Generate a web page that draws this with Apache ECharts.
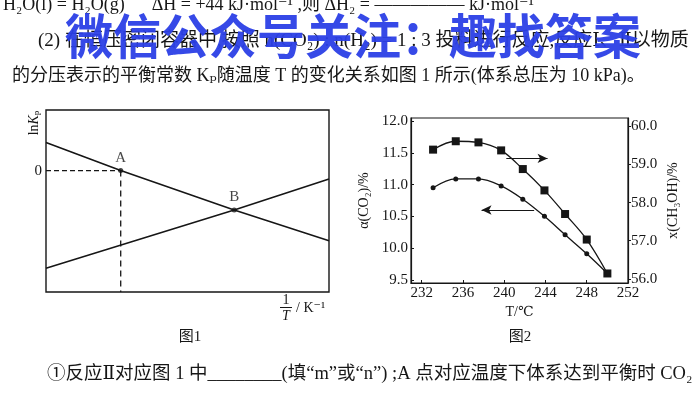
<!DOCTYPE html>
<html>
<head>
<meta charset="utf-8">
<script src="https://cdn.jsdelivr.net/npm/echarts@6/dist/echarts.min.js"></script>
<style>
html,body{margin:0;padding:0;background:#fff;}
#c{width:700px;height:399px;}
</style>
</head>
<body>
<div id="c"></div>
<script>
// ---------- Figure 1 (schematic lnKp vs 1/T) ----------
const fig1LineN = [[0, 1.54], [2.64, 0], [6.65, -2.16], [10, -3.85]];
const fig1LineM = [[0, -5.36], [6.65, -2.16], [10, -0.46]];
const fig1PointA = [2.64, 0];
const fig1PointB = [6.65, -2.16];
const fig1YLabels = [0];

// ---------- Figure 2 ----------
const temps = [233.1, 235.3, 237.5, 239.7, 241.8, 243.9, 245.9, 248.0, 250.0];
const alphaCO2 = [10.95, 11.09, 11.09, 10.98, 10.77, 10.50, 10.21, 9.91, 9.60];
const xCH3OH = [59.39, 59.61, 59.58, 59.37, 58.88, 58.32, 57.70, 57.03, 56.14];
const tempTicks = [232, 236, 240, 244, 248, 252];
const alphaTicks = [9.5, 10.0, 10.5, 11.0, 11.5, 12.0];
const xTicks = [56, 57, 58, 59, 60];
const arrowRight = [[240.2, 59.16], [244.2, 59.16]];
const arrowLeft = [[242.9, 10.60], [237.8, 10.60]];

// ---------- Text ----------
const line1 = 'H\u2082O(l) = H\u2082O(g)      \u0394H = +44 kJ\u00b7mol\u207b\u00b9 ,\u5219 \u0394H\u2082 = \u2014\u2014\u2014\u2014\u2014 kJ\u00b7mol\u207b\u00b9';
const line2 = '(2) \u5728\u6052\u538b\u5bc6\u95ed\u5bb9\u5668\u4e2d,\u6309\u7167 n(CO\u2082) : n(H\u2082) = 1 : 3 \u6295\u6599\u8fdb\u884c\u53cd\u5e94,\u53cd\u5e94\u2160\u3001\u2161\u4ee5\u7269\u8d28';
const line3 = '\u7684\u5206\u538b\u8868\u793a\u7684\u5e73\u8861\u5e38\u6570 K\u209a\u968f\u6e29\u5ea6 T \u7684\u53d8\u5316\u5173\u7cfb\u5982\u56fe 1 \u6240\u793a(\u4f53\u7cfb\u603b\u538b\u4e3a 10 kPa)\u3002';
const line4 = '\u2460\u53cd\u5e94\u2161\u5bf9\u5e94\u56fe 1 \u4e2d________(\u586b\u201cm\u201d\u6216\u201cn\u201d) ;A \u70b9\u5bf9\u5e94\u6e29\u5ea6\u4e0b\u4f53\u7cfb\u8fbe\u5230\u5e73\u8861\u65f6 CO\u2082';
const watermark = '\u5fae\u4fe1\u516c\u4f17\u53f7\u5173\u6ce8\uff1a\u8da3\u627e\u7b54\u6848';

const SERIF = '"Liberation Serif","DejaVu Serif","Noto Sans CJK SC",serif';
const INK = '#161616';

const chart = echarts.init(document.getElementById('c'), null, {renderer: 'canvas'});

const option = {
  backgroundColor: '#ffffff',
  animation: false,
  grid: [
    {left: 46, top: 110, width: 283, height: 182, show: true, borderColor: INK, borderWidth: 1.4, backgroundColor: 'transparent'},
    {left: 411, top: 118, width: 217, height: 165, show: true, borderColor: INK, borderWidth: 1.2, backgroundColor: 'transparent'}
  ],
  xAxis: [
    {gridIndex: 0, type: 'value', min: 0, max: 10, axisLine: {show: false}, axisTick: {show: false},
     axisLabel: {show: false}, splitLine: {show: false}},
    {gridIndex: 1, type: 'value', min: 230.96, max: 252,
     axisLine: {show: true, lineStyle: {color: INK, width: 1.2}},
     axisTick: {show: true, inside: true, length: 3, customValues: tempTicks, lineStyle: {color: INK}},
     axisLabel: {show: true, customValues: tempTicks, margin: 3, color: INK, fontFamily: SERIF, fontSize: 15},
     splitLine: {show: false},
     name: 'T/\u2103', nameLocation: 'middle', nameGap: 22,
     nameTextStyle: {color: INK, fontFamily: SERIF, fontSize: 14, fontStyle: 'normal'}}
  ],
  yAxis: [
    {gridIndex: 0, type: 'value', min: -6.67, max: 3.33, axisLine: {show: false}, axisTick: {show: false},
     axisLabel: {show: true, customValues: fig1YLabels, margin: 4, color: INK, fontFamily: SERIF, fontSize: 15},
     splitLine: {show: false}},
    {gridIndex: 1, type: 'value', min: 9.45, max: 12.05, position: 'left',
     axisLine: {show: true, lineStyle: {color: INK, width: 1.2}},
     axisTick: {show: true, inside: true, length: 3, customValues: alphaTicks, lineStyle: {color: INK}},
     axisLabel: {show: true, customValues: alphaTicks, margin: 3, color: INK, fontFamily: SERIF, fontSize: 15,
                 formatter: v => v.toFixed(1)},
     splitLine: {show: false},
     name: '\u03b1(CO\u2082)/%', nameLocation: 'middle', nameRotate: 90, nameGap: 40,
     nameTextStyle: {color: INK, fontFamily: SERIF, fontSize: 14}},
    {gridIndex: 1, type: 'value', min: 55.89, max: 60.22, position: 'right',
     axisLine: {show: true, lineStyle: {color: INK, width: 1.2}},
     axisTick: {show: true, inside: false, length: 3, customValues: xTicks, lineStyle: {color: INK}},
     axisLabel: {show: true, customValues: xTicks, margin: 3, color: INK, fontFamily: SERIF, fontSize: 15,
                 formatter: v => v.toFixed(1)},
     splitLine: {show: false},
     name: 'x(CH\u2083OH)/%', nameLocation: 'middle', nameRotate: 90, nameGap: 38,
     nameTextStyle: {color: INK, fontFamily: SERIF, fontSize: 14}}
  ],
  series: [
    // Figure 1 lines
    {type: 'line', xAxisIndex: 0, yAxisIndex: 0, data: fig1LineN, showSymbol: false, silent: true,
     lineStyle: {color: INK, width: 1.6}},
    {type: 'line', xAxisIndex: 0, yAxisIndex: 0, data: fig1LineM, showSymbol: false, silent: true,
     lineStyle: {color: INK, width: 1.6}},
    // dashed guides from A
    {type: 'line', xAxisIndex: 0, yAxisIndex: 0, data: [[0, fig1PointA[1]], fig1PointA], showSymbol: false, silent: true,
     lineStyle: {color: INK, width: 1.3, type: [5, 3]}},
    {type: 'line', xAxisIndex: 0, yAxisIndex: 0, data: [fig1PointA, [fig1PointA[0], -6.67]], showSymbol: false, silent: true,
     lineStyle: {color: INK, width: 1.3, type: [6, 4]}},
    // points A, B
    {type: 'scatter', xAxisIndex: 0, yAxisIndex: 0, symbol: 'circle', symbolSize: 5, silent: true,
     itemStyle: {color: INK},
     data: [{value: fig1PointA, name: 'A'}, {value: fig1PointB, name: 'B'}],
     label: {show: true, formatter: '{b}', position: 'top', distance: 3, color: INK, fontFamily: SERIF, fontSize: 15}},
    // line names m, n
    {type: 'scatter', xAxisIndex: 0, yAxisIndex: 0, symbol: 'none', symbolSize: 0, silent: true,
     data: [
       {value: fig1LineM[fig1LineM.length - 1], name: 'm', label: {offset: [0, -5]}},
       {value: fig1LineN[fig1LineN.length - 1], name: 'n', label: {offset: [0, -14]}}
     ],
     label: {show: true, formatter: '{b}', position: 'left', distance: 9, color: INK, fontFamily: SERIF, fontSize: 15}},
    // Figure 2
    {type: 'line', xAxisIndex: 1, yAxisIndex: 2, data: temps.map((t, i) => [t, xCH3OH[i]]),
     smooth: 0.35, symbol: 'rect', symbolSize: 8, showSymbol: true, silent: true,
     itemStyle: {color: INK}, lineStyle: {color: INK, width: 1.3},
     markLine: {silent: true, symbol: ['none', 'arrow'], symbolSize: [7, 10], label: {show: false},
       lineStyle: {color: INK, width: 1.2, type: 'solid'},
       data: [[{coord: arrowRight[0]}, {coord: arrowRight[1]}]]}},
    {type: 'line', xAxisIndex: 1, yAxisIndex: 1, data: temps.map((t, i) => [t, alphaCO2[i]]),
     smooth: 0.35, symbol: 'circle', symbolSize: 5, showSymbol: true, silent: true,
     itemStyle: {color: INK}, lineStyle: {color: INK, width: 1.3},
     markLine: {silent: true, symbol: ['none', 'arrow'], symbolSize: [7, 10], label: {show: false},
       lineStyle: {color: INK, width: 1.2, type: 'solid'},
       data: [[{coord: arrowLeft[0]}, {coord: arrowLeft[1]}]]}}
  ],
  graphic: [
    {type: 'text', x: 3, y: 5, style: {text: line1, font: '18px ' + SERIF, fill: INK, verticalAlign: 'middle'}},
    {type: 'text', x: 38, y: 41, style: {text: line2, font: '19px ' + SERIF, fill: INK, verticalAlign: 'middle'}},
    {type: 'text', x: 12, y: 76, style: {text: line3, font: '18px ' + SERIF, fill: INK, verticalAlign: 'middle'}},
    {type: 'text', x: 47, y: 374, style: {text: line4, font: '18.5px ' + SERIF, fill: INK, verticalAlign: 'middle'}},
    // figure captions
    {type: 'text', x: 190, y: 337, style: {text: '\u56fe1', font: '15px ' + SERIF, fill: INK, align: 'center', verticalAlign: 'middle'}},
    {type: 'text', x: 520, y: 337, style: {text: '\u56fe2', font: '15px ' + SERIF, fill: INK, align: 'center', verticalAlign: 'middle'}},
    // figure 1 axis names
    {type: 'text', x: 34, y: 123, rotation: Math.PI / 2,
     style: {text: '{a|ln}{b|K}{c|p}', align: 'center', verticalAlign: 'middle', fill: INK,
       rich: {a: {fontFamily: SERIF, fontSize: 14, fill: INK},
              b: {fontFamily: SERIF, fontSize: 14, fontStyle: 'italic', fill: INK},
              c: {fontFamily: SERIF, fontSize: 9, fill: INK, verticalAlign: 'bottom'}}}},
    {type: 'text', x: 286, y: 300, style: {text: '1', font: '14px ' + SERIF, fill: INK, align: 'center', verticalAlign: 'middle'}},
    {type: 'line', shape: {x1: 280, y1: 307.5, x2: 292, y2: 307.5}, style: {stroke: INK, lineWidth: 1}},
    {type: 'text', x: 286, y: 316, style: {text: 'T', font: 'italic 14px ' + SERIF, fill: INK, align: 'center', verticalAlign: 'middle'}},
    {type: 'text', x: 296, y: 308, style: {text: '/ K\u207b\u00b9', font: '14px ' + SERIF, fill: INK, verticalAlign: 'middle'}},
    // watermark
    {type: 'text', x: 65, y: 36, z: 100,
     style: {text: watermark, font: 'bold 48px "Noto Sans CJK SC"', fill: '#2b3fe6', verticalAlign: 'middle', opacity: 0.95}}
  ]
};
chart.setOption(option);
</script>
</body>
</html>
